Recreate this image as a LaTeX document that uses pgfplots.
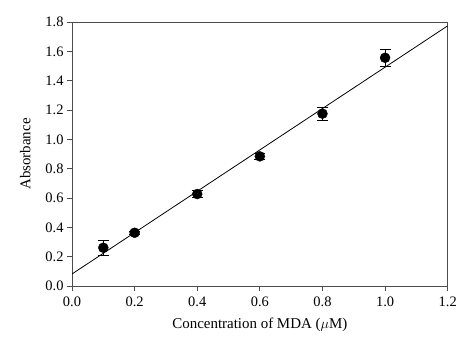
\documentclass[border=0pt]{standalone}
\usepackage{fontspec}
\setmainfont{Liberation Serif}
\usepackage{pgfplots}
\pgfplotsset{compat=1.18}
\begin{document}
\begin{tikzpicture}
\path[use as bounding box] (-72bp,-67bp) rectangle (402bp,286bp);
\begin{axis}[
  scale only axis,
  width=375.7bp, height=264bp,
  xmin=0, xmax=1.2, ymin=0, ymax=1.8,
  xtick={0,0.2,...,1.2}, ytick={0,0.2,...,1.8},
  axis line style={draw=black!70, line width=0.9pt},
  tick style={draw=black!70, line width=0.9pt},
  tick align=outside, major tick length=5bp,
  xtick pos=bottom, ytick pos=left,
  /pgf/number format/.cd, fixed, fixed zerofill, precision=1, assume math mode=true,
  /pgfplots/.cd,
  tick label style={font=\fontsize{14.5}{16}\selectfont},
  xticklabel style={yshift=-2bp},
  label style={font=\fontsize{15}{17}\selectfont},
  xlabel={Concentration of MDA ($\mu$M)},
  ylabel={Absorbance},
  xlabel style={yshift=-5bp},
  ylabel style={yshift=8bp},
]
\addplot[black, line width=0.8pt, forget plot] coordinates {(0,0.082) (1.2,1.774)};
\addplot[only marks, mark=*, mark size=5bp, black,
  error bars/.cd, y dir=both, y explicit, error mark options={rotate=90, mark size=5.5bp, line width=0.8pt}, error bar style={line width=0.8pt}]
  coordinates {
  (0.1,0.261) +- (0,0.053)
  (0.2,0.363) +- (0,0.012)
  (0.4,0.627) +- (0,0.022)
  (0.6,0.884) +- (0,0.022)
  (0.8,1.175) +- (0,0.043)
  (1.0,1.556) +- (0,0.058)
  };
\end{axis}
\end{tikzpicture}
\end{document}
